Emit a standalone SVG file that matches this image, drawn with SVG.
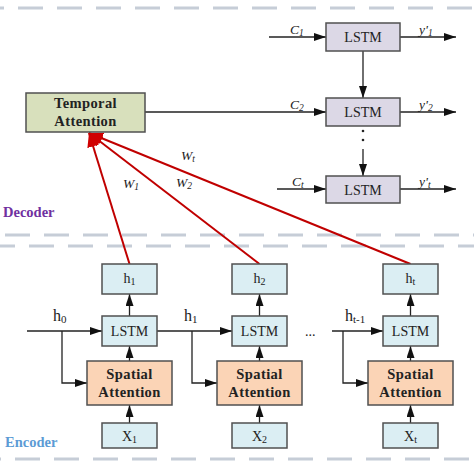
<svg xmlns="http://www.w3.org/2000/svg" width="474" height="474" viewBox="0 0 474 474">
<style>
text{font-family:"Liberation Serif","Times New Roman",serif;fill:#222}
.box{stroke:#505050;stroke-width:1.5}
.dlstm{fill:#dcd8e6}
.ta{fill:#d8e0bc}
.eb{fill:#dbeef3}
.sa{fill:#fbd4b6}
.b{font-weight:bold;font-size:14.5px;letter-spacing:0.4px}
.l{font-size:14px}
.lbl{font-size:16px}
.it{font-style:italic;font-size:13.5px}
.arr{stroke:#222;stroke-width:1.3;fill:none;marker-end:url(#ah)}
.red{stroke:#c00000;stroke-width:2;fill:none;marker-end:url(#rh)}
.dash{stroke:#c6cdd7;stroke-width:3;stroke-dasharray:25 14;fill:none}
</style>
<defs>
<marker id="ah" viewBox="0 0 12 8" refX="12" refY="4" markerWidth="12" markerHeight="8" markerUnits="userSpaceOnUse" orient="auto"><path d="M0,0 L12,4 L0,8 Z" fill="#111"/></marker>
<marker id="rh" viewBox="0 0 14 12" refX="14" refY="6" markerWidth="14" markerHeight="12" markerUnits="userSpaceOnUse" orient="auto"><path d="M0,0 L14,6 L0,12 Z" fill="#d00000"/></marker>
</defs>
<rect width="474" height="474" fill="#fff"/>
<g id="separators">
<line class="dash" x1="-21" y1="8" x2="474" y2="8"/>
<line class="dash" x1="5" y1="235" x2="474" y2="235"/>
<line class="dash" x1="-10" y1="246" x2="474" y2="246"/>
<line class="dash" x1="-24" y1="459" x2="474" y2="459"/>
</g>
<text x="3" y="217" style="font-weight:bold;font-size:14.5px;fill:#7030a0">Decoder</text>
<text x="5" y="447" style="font-weight:bold;font-size:14.5px;fill:#5b9bd5">Encoder</text>
<g id="connectors">
<line class="arr" x1="269" y1="37" x2="326" y2="37"/>
<line class="arr" x1="145" y1="112" x2="326" y2="112"/>
<line class="arr" x1="277" y1="189" x2="326" y2="189"/>
<line class="arr" x1="400" y1="37" x2="456" y2="37"/>
<line class="arr" x1="400" y1="112" x2="456" y2="112"/>
<line class="arr" x1="400" y1="189" x2="456" y2="189"/>
<line class="arr" x1="363" y1="51" x2="363" y2="98"/>
<circle cx="363" cy="131" r="1.3" fill="#222"/>
<circle cx="363" cy="140" r="1.3" fill="#222"/>
<line class="arr" x1="363" y1="149" x2="363" y2="176"/>
<line class="arr" x1="27" y1="331" x2="102" y2="331"/>
<path class="arr" d="M62,331 V383 H87"/>
<line class="arr" x1="157" y1="331" x2="232" y2="331"/>
<path class="arr" d="M192,331 V383 H217"/>
<line class="arr" x1="332" y1="331" x2="383" y2="331"/>
<path class="arr" d="M343,331 V383 H368"/>
<line class="arr" x1="129.5" y1="316" x2="129.5" y2="294"/>
<line class="arr" x1="129.5" y1="361" x2="129.5" y2="346"/>
<line class="arr" x1="129.5" y1="423" x2="129.5" y2="405"/>
<line class="arr" x1="259.5" y1="316" x2="259.5" y2="294"/>
<line class="arr" x1="259.5" y1="361" x2="259.5" y2="346"/>
<line class="arr" x1="259.5" y1="423" x2="259.5" y2="405"/>
<line class="arr" x1="410.5" y1="316" x2="410.5" y2="294"/>
<line class="arr" x1="410.5" y1="361" x2="410.5" y2="346"/>
<line class="arr" x1="410.5" y1="423" x2="410.5" y2="405"/>
<line class="red" x1="129.5" y1="264" x2="89" y2="133"/>
<line class="red" x1="259.5" y1="264" x2="89" y2="133"/>
<line class="red" x1="410.5" y1="264" x2="89" y2="133"/>
</g>
<g id="connector-labels">
<text class="it" x="290" y="34">C<tspan font-size="9.5" dy="2">1</tspan></text>
<text class="it" x="290" y="109">C<tspan font-size="9.5" dy="2">2</tspan></text>
<text class="it" x="292" y="186">C<tspan font-size="9.5" dy="2">t</tspan></text>
<text class="it" x="419" y="34">y'<tspan font-size="9.5" dy="2">1</tspan></text>
<text class="it" x="419" y="109">y'<tspan font-size="9.5" dy="2">2</tspan></text>
<text class="it" x="419" y="186">y'<tspan font-size="9.5" dy="2">t</tspan></text>
<text class="it" x="181" y="160">W<tspan font-size="9.5" dy="2">t</tspan></text>
<text class="it" x="123" y="188">W<tspan font-size="9.5" dy="2">1</tspan></text>
<text class="it" x="176" y="187">W<tspan font-size="9.5" dy="2">2</tspan></text>
<text class="lbl" x="53" y="321">h<tspan font-size="11" dy="2">0</tspan></text>
<text class="lbl" x="184" y="321">h<tspan font-size="11" dy="2">1</tspan></text>
<text class="lbl" x="345" y="321">h<tspan font-size="11" dy="2">t-1</tspan></text>
<text class="l" x="305" y="336">...</text>
</g>
<g id="temporal-attention">
<rect class="box ta" x="26" y="93" width="119" height="39"/>
<text class="b" x="85.5" y="108" text-anchor="middle">Temporal</text>
<text class="b" x="85.5" y="126" text-anchor="middle">Attention</text>
</g>
<g id="dec-lstm-1"><rect class="box dlstm" x="326" y="23" width="74" height="28"/><text class="l" x="363" y="42" text-anchor="middle">LSTM</text></g>
<g id="dec-lstm-2"><rect class="box dlstm" x="326" y="98" width="74" height="28"/><text class="l" x="363" y="117" text-anchor="middle">LSTM</text></g>
<g id="dec-lstm-t"><rect class="box dlstm" x="326" y="176" width="74" height="27"/><text class="l" x="363" y="194.5" text-anchor="middle">LSTM</text></g>
<g id="enc-h1"><rect class="box eb" x="102" y="264" width="55" height="30"/><text class="l" x="129.5" y="283" text-anchor="middle">h<tspan font-size="10" dy="2">1</tspan></text></g>
<g id="enc-lstm-1"><rect class="box eb" x="102" y="316" width="55" height="30"/><text class="l" x="129.5" y="336" text-anchor="middle">LSTM</text></g>
<g id="enc-sa-1"><rect class="box sa" x="87" y="361" width="85" height="44"/><text class="b" x="129.5" y="379" text-anchor="middle">Spatial</text><text class="b" x="129.5" y="397" text-anchor="middle">Attention</text></g>
<g id="enc-x1"><rect class="box eb" x="102" y="423" width="55" height="25"/><text class="l" x="129.5" y="440.5" text-anchor="middle">X<tspan font-size="10" dy="2">1</tspan></text></g>
<g id="enc-h2"><rect class="box eb" x="232" y="264" width="55" height="30"/><text class="l" x="259.5" y="283" text-anchor="middle">h<tspan font-size="10" dy="2">2</tspan></text></g>
<g id="enc-lstm-2"><rect class="box eb" x="232" y="316" width="55" height="30"/><text class="l" x="259.5" y="336" text-anchor="middle">LSTM</text></g>
<g id="enc-sa-2"><rect class="box sa" x="217" y="361" width="85" height="44"/><text class="b" x="259.5" y="379" text-anchor="middle">Spatial</text><text class="b" x="259.5" y="397" text-anchor="middle">Attention</text></g>
<g id="enc-x2"><rect class="box eb" x="232" y="423" width="55" height="25"/><text class="l" x="259.5" y="440.5" text-anchor="middle">X<tspan font-size="10" dy="2">2</tspan></text></g>
<g id="enc-ht"><rect class="box eb" x="383" y="264" width="55" height="30"/><text class="l" x="410.5" y="283" text-anchor="middle">h<tspan font-size="10" dy="2">t</tspan></text></g>
<g id="enc-lstm-t"><rect class="box eb" x="383" y="316" width="55" height="30"/><text class="l" x="410.5" y="336" text-anchor="middle">LSTM</text></g>
<g id="enc-sa-t"><rect class="box sa" x="368" y="361" width="85" height="44"/><text class="b" x="410.5" y="379" text-anchor="middle">Spatial</text><text class="b" x="410.5" y="397" text-anchor="middle">Attention</text></g>
<g id="enc-xt"><rect class="box eb" x="383" y="423" width="55" height="25"/><text class="l" x="410.5" y="440.5" text-anchor="middle">X<tspan font-size="10" dy="2">t</tspan></text></g>
</svg>
